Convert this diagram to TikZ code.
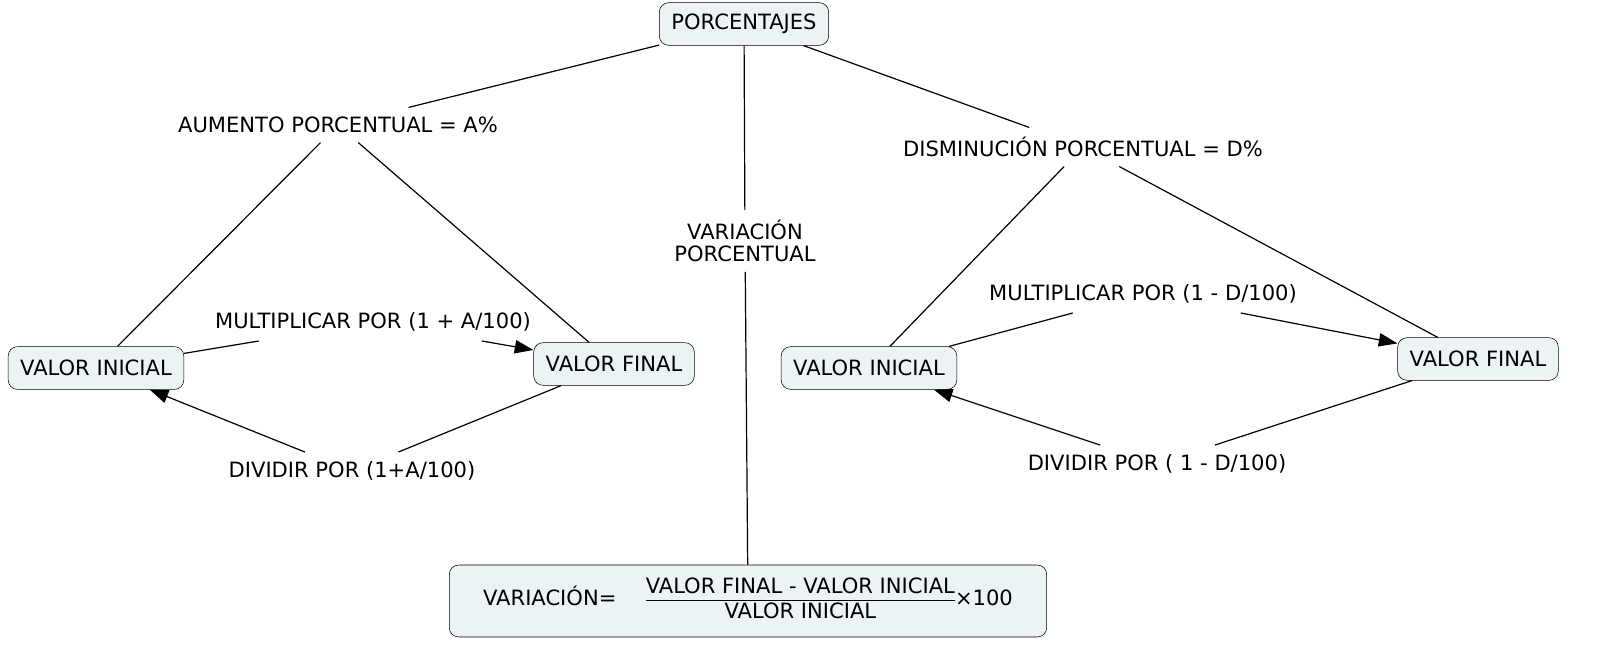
\documentclass[tikz,border=0pt]{standalone}
\usepackage{fontspec}
\setmainfont{DejaVu Sans}
\usetikzlibrary{arrows.meta}
\begin{document}
\begin{tikzpicture}[x=0.75pt,y=-0.75pt,
  every node/.style={font=\fontsize{15.8}{19}\selectfont},
  box/.style={draw=black,rounded corners=7pt,fill=boxfill,inner xsep=9pt,minimum height=32pt},
  lbl/.style={inner sep=7pt,align=center},
  ln/.style={draw=black,line width=0.9pt},
  arr/.style={ln,-{Triangle[length=14pt,width=10pt]}}]
\definecolor{boxfill}{HTML}{EBF3F5}
\useasboundingbox (0,0) rectangle (1600,653);
\node[box] (p) at (744,24) {PORCENTAJES};
\node[lbl] (aum) at (338,125) {AUMENTO PORCENTUAL = A\%};
\node[lbl] (dis) at (1083,147) {DISMINUCIÓN PORCENTUAL = D\%};
\node[lbl] (var) at (745,241) {VARIACIÓN\\[-2pt]PORCENTUAL};
\node[box] (vi1) at (96,368) {VALOR INICIAL};
\node[box] (vf1) at (614,364) {VALOR FINAL};
\node[lbl] (m1) at (373,322) {MULTIPLICAR POR (1 + A/100)};
\node[lbl] (d1) at (352,471) {DIVIDIR POR (1+A/100)};
\node[box] (vi2) at (869,368) {VALOR INICIAL};
\node[box] (vf2) at (1478,359) {VALOR FINAL};
\node[lbl] (m2) at (1143,294) {MULTIPLICAR POR (1 - D/100)};
\node[lbl] (d2) at (1157,464) {DIVIDIR POR ( 1 - D/100)};
\node[box,minimum width=448pt,minimum height=54pt] (f) at (748,601)
 {VARIACIÓN=\hspace{22pt}\begin{tabular}{@{}c@{}}VALOR FINAL - VALOR INICIAL\\[-1pt]\hline VALOR INICIAL\end{tabular}×100};
\draw[ln] (p) -- (aum);
\draw[ln] (p) -- (dis);
\draw[ln] (p) -- (var);
\draw[ln] (var) -- (f);
\draw[ln] (aum) -- (vi1);
\draw[ln] (aum) -- (vf1);
\draw[ln] (dis) -- (vi2);
\draw[ln] (dis) -- (vf2);
\draw[ln] (vi1) -- (m1);
\draw[arr] (m1) -- (vf1);
\draw[ln] (vf1) -- (d1);
\draw[arr] (d1) -- (vi1);
\draw[ln] (vi2) -- (m2);
\draw[arr] (m2) -- (vf2);
\draw[ln] (vf2) -- (d2);
\draw[arr] (d2) -- (vi2);
\end{tikzpicture}
\end{document}
